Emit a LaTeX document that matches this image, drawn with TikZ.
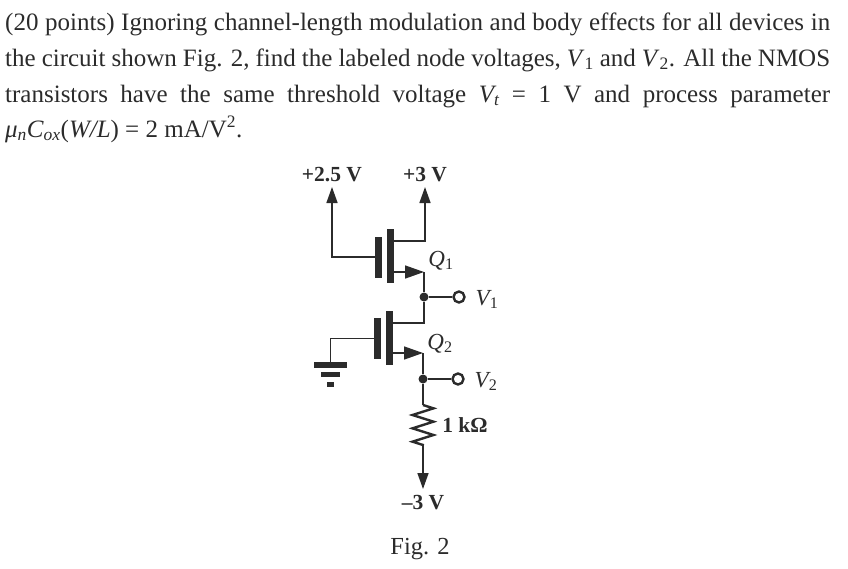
\documentclass[tikz,border=0pt]{standalone}
\usepackage{fontspec}
\setmainfont{Liberation Serif}
\usetikzlibrary{arrows.meta,decorations.pathmorphing}
\definecolor{ink}{HTML}{2B2B2B}
\newcommand{\ital}[1]{\textit{#1}}
\newcommand{\dn}[1]{\textsubscript{\textup{#1}}}
\tikzset{
  x=1pt,y=-1pt,
  wire/.style={draw=ink,line width=1.5pt},
  rail/.style={wire,-{Triangle[length=16pt,width=11pt]}},
  srcarrow/.style={wire,-{Triangle[length=19pt,width=13pt]}},
  plategate/.style={fill=ink,inner sep=0pt,minimum width=7pt,minimum height=41pt},
  platechan/.style={fill=ink,inner sep=0pt,minimum width=7pt,minimum height=54pt},
  gndbar/.style={fill=ink,inner sep=0pt,minimum height=5.5pt},
  junction/.style={circle,fill=ink,inner sep=0pt,minimum size=9pt},
  terminal/.style={circle,draw=ink,fill=white,line width=2.4pt,inner sep=0pt,minimum size=11pt},
  para/.style={anchor=base west,inner sep=0pt,text=ink,font=\fontsize{25}{28}\selectfont},
  lab/.style={anchor=base,inner sep=0pt,text=ink,font=\fontsize{21.5}{24}\selectfont\bfseries},
  sym/.style={anchor=base,inner sep=0pt,text=ink,font=\fontsize{23}{26}\selectfont\itshape},
}
\begin{document}
\begin{tikzpicture}
\useasboundingbox (0,0) rectangle (848,568);
% paragraph
\node[para] (l1) at (5,30) {\makebox[825pt][s]{(20 points) Ignoring channel-length modulation and body effects for all devices in}};
\node[para] (l2) at (5,66) {\makebox[825pt][s]{the circuit shown Fig. 2, find the labeled node voltages, \ital{V}\dn{1} and \ital{V}\dn{2}. All the NMOS}};
\node[para] (l3) at (5,102) {\makebox[825pt][s]{transistors have the same threshold voltage \ital{V\textsubscript{t}} = 1 V and process parameter}};
\node[para] (l4) at (5,137) {\ital{μ\textsubscript{n}C\textsubscript{ox}}(\ital{W/L}) = 2 mA/V\textsuperscript{2}.};
% supply labels
\node[lab] (vg) at (332,181) {+2.5 V};
\node[lab] (vd) at (425,181) {+3 V};
\coordinate (vgtip) at (332,187);
\coordinate (vdtip) at (425,187);
% Q1
\node[plategate] (g1) at (378.5,257) {};
\node[platechan] (c1) at (390.5,256) {};
\coordinate (d1) at (394,241);
\coordinate (s1) at (394,272);
\coordinate (st1) at (424,272);
\node[junction] (n1) at (424,297) {};
\node[terminal] (t1) at (459,297) {};
\node[sym] (q1) at (441,266) {Q\dn{1}};
\node[sym] (v1) at (487,305) {V\dn{1}};
\draw[rail] (g1.west) -| (vgtip);
\draw[rail] (d1) -| (vdtip);
\draw[srcarrow] (s1) -- (st1);
\draw[wire] (st1) -- (n1);
\draw[wire] (n1) -- (t1);
% Q2
\node[plategate] (g2) at (377.5,338.5) {};
\node[platechan] (c2) at (389.5,338) {};
\coordinate (d2) at (393,323);
\coordinate (s2) at (393,353);
\coordinate (st2) at (423,353);
\node[junction] (n2) at (423,379) {};
\node[terminal] (t2) at (458,379) {};
\node[sym] (q2) at (440,349) {Q\dn{2}};
\node[sym] (v2) at (486,387) {V\dn{2}};
\draw[wire] (d2) -| (n1);
\draw[srcarrow] (s2) -- (st2);
\draw[wire] (st2) -- (n2);
\draw[wire] (n2) -- (t2);
% ground
\node[gndbar,minimum width=33pt] (b1) at (330.5,365) {};
\node[gndbar,minimum width=19pt] (b2) at (330.5,374.5) {};
\node[gndbar,minimum width=7pt] (b3) at (330.5,384.5) {};
\draw[wire] (g2.west) -| (b1.north);
% resistor
\coordinate (r1) at (423,405);
\coordinate (r2) at (423,445);
\coordinate (vstip) at (423,489);
\draw[wire] (n2) -- (r1);
\draw[draw=ink,line width=2.4pt,line join=miter,decorate,decoration={zigzag,segment length=13.33pt,amplitude=10.5pt}] (r1) -- (r2);
\draw[rail] (r2) -- (vstip);
\node[lab] (rl) at (465,432) {1 kΩ};
\node[lab] (vs) at (423,509) {–3 V};
\node[anchor=base,inner sep=0pt,text=ink,font=\fontsize{24.5}{28}\selectfont] (fig) at (420,554) {Fig. 2};
\end{tikzpicture}
\end{document}
